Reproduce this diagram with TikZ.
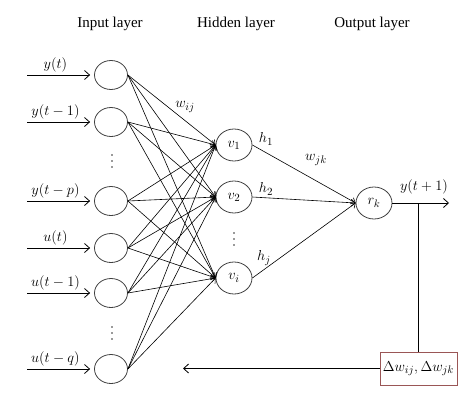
\documentclass[tikz,border=0pt]{standalone}
\usepackage{fontspec}
\setmainfont{Liberation Serif}
\usetikzlibrary{shapes.geometric,arrows.meta,calc}
\definecolor{boxred}{HTML}{9A5656}
\begin{document}
\begin{tikzpicture}[x=1pt,y=-1pt,
  font=\fontsize{15}{17}\selectfont,
  inp/.style={ellipse,draw=black!75,line width=0.8pt,minimum width=33pt,minimum height=29pt,inner sep=0pt},
  hid/.style={ellipse,draw=black!75,line width=0.8pt,minimum width=36pt,minimum height=32pt,inner sep=0pt},
  conn/.style={line width=0.6pt,-{Straight Barb[length=4pt,width=7pt]}},
  feed/.style={line width=0.8pt,-{Straight Barb[length=5pt,width=9pt]}},
  plain/.style={line width=0.8pt},
  lbl/.style={inner sep=1pt},
  dot/.style={circle,fill=black!80,inner sep=0pt,minimum size=1.8pt},
  upd/.style={draw=boxred,line width=0.9pt,minimum width=77pt,minimum height=33pt,inner sep=2pt}]
\useasboundingbox (0,0) rectangle (474,402);
% headers
\node[lbl] (hin) at (110,24) {Input layer};
\node[lbl] (hhid) at (236,24) {Hidden layer};
\node[lbl] (hout) at (372,24) {Output layer};
% input nodes
\node[inp] (i1) at (111,75) {};
\node[inp] (i2) at (111,122) {};
\node[inp] (i3) at (111,201) {};
\node[inp] (i4) at (111,248) {};
\node[inp] (i5) at (111,293) {};
\node[inp] (i6) at (111,369) {};
% vertical ellipses (dots)
\foreach \x/\y/\k in {112/155/a,112/327/b,234/233/c}{
  \node[dot] (\k1) at (\x,\y) {};
  \node[dot] (\k2) at (\x,\y+6) {};
  \node[dot] (\k3) at (\x,\y+12) {};
}
% input arrows
\foreach \n/\t in {1/{y(t)},2/{y(t-1)},3/{y(t-p)},4/{u(t)},5/{u(t-1)},6/{u(t-q)}}{
  \coordinate (s\n) at ($(i\n.west)+(-67,0)$);
  \draw[feed] (s\n) -- node[lbl,above=2pt,pos=0.45] (l\n) {$\t$} ($(i\n.west)+(-4,0)$);
}
% hidden nodes
\node[hid] (h1) at (234,145) {$v_1$};
\node[hid] (h2) at (234,197) {$v_2$};
\node[hid] (h3) at (234,278) {$v_i$};
% input -> hidden
\foreach \a in {1,...,6}{
  \foreach \b in {1,2,3}{
    \draw[conn] (i\a.east) -- (h\b.west);
  }
}
\node[lbl] (wij) at (185,107) {$w_{ij}$};
% output
\node[hid] (o) at (374,203) {$r_k$};
\foreach \b in {1,2,3}{
  \draw[conn] (h\b.east) -- (o.west);
}
\node[lbl] (hl1) at (266,139) {$h_1$};
\node[lbl] (hl2) at (266,189) {$h_2$};
\node[lbl] (hl3) at (264,258) {$h_j$};
\node[lbl] (wjk) at (316,160) {$w_{jk}$};
\coordinate (oend) at (449,203);
\coordinate (tap) at (418.5,203);
\draw[feed] (o.east) -- (oend);
\node[lbl] (yout) at (424,187) {$y(t+1)$};
\node[upd] (box) at (418.5,368.5) {$\Delta w_{ij}, \Delta w_{jk}$};
\draw[plain] (tap) -- (box.north);
\coordinate (fend) at (183,368.5);
\draw[feed] (box.west) -- (fend);
\end{tikzpicture}
\end{document}
